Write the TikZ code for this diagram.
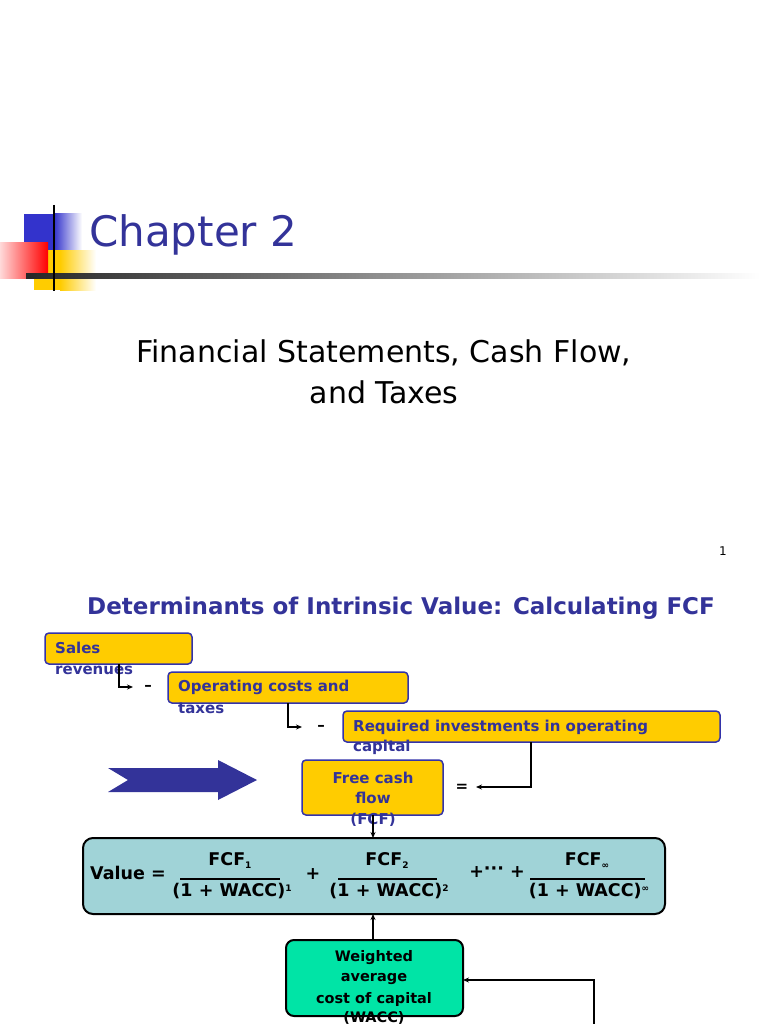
\documentclass[tikz,border=0pt]{standalone}
\usepackage{fontspec}
\setmainfont{DejaVu Sans}
\usetikzlibrary{arrows.meta}
\definecolor{tblue}{HTML}{333399}
\definecolor{byel}{HTML}{FFCC00}
\definecolor{bbord}{HTML}{3333AA}
\definecolor{vfill}{HTML}{A0D3D7}
\definecolor{wfill}{HTML}{00E4A6}
\tikzset{
 ybox/.style={draw=bbord,line width=1.5pt,fill=byel,rounded corners=4pt},
 btxt/.style={font=\fontsize{15}{17}\selectfont\bfseries,text=tblue,inner sep=0pt},
 ctxt/.style={btxt,align=center},
 ktxt/.style={font=\fontsize{17.5}{19}\selectfont\bfseries,text=black,inner sep=0pt},
 wtxt/.style={font=\fontsize{14.5}{16}\selectfont\bfseries,text=black,inner sep=0pt},
 conn/.style={line width=1.2pt,-{Stealth[length=6pt,width=5pt]}},
}
\begin{document}
\begin{tikzpicture}[x=1pt,y=-1pt]
\useasboundingbox (0,0) rectangle (768,1024);
% logo
\fill[color={rgb,255:red,51;green,51;blue,204}] (24,214) rectangle (54,270);
\shade[left color={rgb,255:red,51;green,51;blue,204},right color=white] (54,214) rectangle (82,270);
\fill[byel] (34,250) rectangle (60,290);
\shade[left color=byel,right color=white] (60,250) rectangle (96,290);
\shade[left color=red!15,right color=red] (0,242) rectangle (48,278);
\shade[left color=black!85,right color=white] (26,273) rectangle (760,278);
\draw[line width=1.8pt] (54,205) -- (54,291);
\node[anchor=west,inner sep=0pt,text=tblue,font=\fontsize{42}{46}\selectfont] (ch) at (89,235) {Chapter 2};
\node[align=center,inner sep=0pt,font=\fontsize{30}{41}\selectfont] (sub) at (384,372) {Financial Statements, Cash Flow,\\and Taxes};
\node[inner sep=0pt,font=\fontsize{12}{14}\selectfont] (pg) at (723,551) {1};
\node[inner sep=0pt,text=tblue,font=\fontsize{23}{26}\selectfont\bfseries] (hd) at (401,608) {Determinants of Intrinsic Value: Calculating FCF};
% boxes
\draw[ybox] (45,633) rectangle (192,664);
\node[btxt,anchor=west] (s1) at (55,648) {Sales};
\node[btxt,anchor=west] (s2) at (55,670) {revenues};
\draw[ybox] (168,672) rectangle (408,703);
\node[btxt,anchor=west] (o1) at (178,687) {Operating costs and};
\node[btxt,anchor=west] (o2) at (178,708) {taxes};
\draw[ybox] (343,711) rectangle (720,742);
\node[btxt,anchor=west] (r1) at (353,727) {Required investments in operating};
\node[btxt,anchor=west] (r2) at (353,747) {capital};
\node[btxt,text=black] (m1) at (148,688) {–};
\node[btxt,text=black] (m2) at (321,728) {–};
\node[btxt,text=black] (eq) at (462,788) {=};
\draw[conn] (119,664) -- (119,687) -- (133,687);
\draw[conn] (288,703) -- (288,727) -- (302,727);
\draw[conn] (531,742) -- (531,787) -- (476,787);
% big arrow
\fill[tblue] (108,768) -- (218,768) -- (218,760) -- (257,780) -- (218,800) -- (218,792) -- (108,792) -- (128,780) -- cycle;
% FCF
\draw[ybox] (302,760) rectangle (443,815);
\node[ctxt] (f1) at (373,778) {Free cash};
\node[ctxt] (f2) at (373,798) {flow};
\node[ctxt] (f3) at (373,820) {(FCF)};
\draw[conn] (373,815) -- (373,838);
% value
\draw[line width=2pt,fill=vfill,rounded corners=10pt] (83,838) rectangle (665,914);
\node[ktxt,anchor=west] (v) at (90,873) {Value =};
\node[ktxt] (n1) at (230,860) {FCF\raisebox{-3pt}{\fontsize{9}{9}\selectfont 1}};
\draw[line width=1.2pt] (180,879) -- (280,879);
\node[ktxt] (d1) at (232,891) {(1 + WACC)\raisebox{5pt}{\fontsize{9}{9}\selectfont 1}};
\node[ktxt] (p1) at (313,874) {+};
\node[ktxt] (n2) at (387,860) {FCF\raisebox{-3pt}{\fontsize{9}{9}\selectfont 2}};
\draw[line width=1.2pt] (338,879) -- (437,879);
\node[ktxt] (d2) at (389,891) {(1 + WACC)\raisebox{5pt}{\fontsize{9}{9}\selectfont 2}};
\node[ktxt] (p2) at (497,872) {+\raisebox{3pt}{···} +};
\node[ktxt] (n3) at (587,860) {FCF\raisebox{-3pt}{\fontsize{9}{9}\selectfont ∞}};
\draw[line width=1.2pt] (530,879) -- (645,879);
\node[ktxt] (d3) at (589,891) {(1 + WACC)\raisebox{5pt}{\fontsize{9}{9}\selectfont ∞}};
% WACC
\draw[line width=2pt,fill=wfill,rounded corners=8pt] (286,940) rectangle (463,1016);
\node[wtxt] (w1) at (374,958) {Weighted};
\node[wtxt] (w2) at (374,979) {average};
\node[wtxt] (w3) at (374,999) {cost of capital};
\node[wtxt] (w4) at (374,1018) {(WACC)};
\draw[conn] (373,940) -- (373,914);
\draw[conn] (594,1024) -- (594,980) -- (463,980);
\end{tikzpicture}
\end{document}
